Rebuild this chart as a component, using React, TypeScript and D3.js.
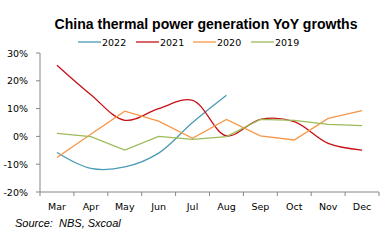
import React from 'react';
import * as d3 from 'd3';

// monthly YoY growth of thermal power generation, in %
const months = ['Mar', 'Apr', 'May', 'Jun', 'Jul', 'Aug', 'Sep', 'Oct', 'Nov', 'Dec'];
const y2022 = [-5.8, -11.5, -11, -6, 5, 14.8];
const y2021 = [25.6, 15, 5.8, 10, 13, 0.2, 6.1, 5.3, -2.5, -4.9];
const y2020 = [-7.6, 0.8, 9.1, 5.5, -0.7, 6.1, 0.2, -1.3, 6.5, 9.3];
const y2019 = [1.1, -0.1, -4.9, 0, -1.1, -0.1, 6.1, 5.8, 4.3, 3.9];
const yTicks = [30, 20, 10, 0, -10, -20];

const series = [
  { name: '2022', values: y2022, color: '#4a9bb5', smooth: true },
  { name: '2021', values: y2021, color: '#c81016', smooth: true },
  { name: '2020', values: y2020, color: '#f79646', smooth: false },
  { name: '2019', values: y2019, color: '#9bbb59', smooth: false },
];

const W = 388;
const H = 248;
const left = 40, right = 379, top = 53, bottom = 192;
const font = 'DejaVu Sans, sans-serif';

export default function App() {
  const x = d3.scaleBand<string>().domain(months).range([left, right]);
  const y = d3.scaleLinear().domain([-20, 30]).range([bottom, top]);
  const cx = (m: string) => (x(m) as number) + x.bandwidth() / 2;

  const legendX = [78, 136, 193, 251];

  return (
    <svg width={W} height={H} style={{ position: 'absolute', left: 0, top: 0, background: '#fff' }}>
      <text x={206} y={29} textAnchor="middle" fontFamily="Liberation Sans, Arial, sans-serif"
        fontWeight="bold" fontSize={15} textLength={303} lengthAdjust="spacingAndGlyphs" fill="#000">
        China thermal power generation YoY growths
      </text>

      {series.map((s, i) => (
        <g key={s.name}>
          <line x1={legendX[i]} x2={legendX[i] + 23} y1={42} y2={42} stroke={s.color} strokeWidth={1.3} />
          <text x={legendX[i] + 24} y={46} fontFamily={font} fontSize={9.5} fill="#000">{s.name}</text>
        </g>
      ))}

      {/* y axis */}
      <line x1={left} x2={left} y1={top} y2={bottom} stroke="#868686" />
      {yTicks.map(t => (
        <g key={t}>
          <line x1={left - 4} x2={left} y1={y(t)} y2={y(t)} stroke="#868686" />
          <text x={28} y={y(t) + 3.5} textAnchor="end" fontFamily={font} fontSize={9.5} fill="#000">{t}%</text>
        </g>
      ))}

      {/* x axis */}
      <line x1={left} x2={right} y1={bottom} y2={bottom} stroke="#868686" />
      {months.map(m => (
        <line key={'t' + m} x1={x(m)} x2={x(m)} y1={bottom} y2={bottom + 4} stroke="#868686" />
      ))}
      <line x1={right} x2={right} y1={bottom} y2={bottom + 4} stroke="#868686" />
      {months.map(m => (
        <text key={m} x={cx(m)} y={210} textAnchor="middle" fontFamily={font} fontSize={9.5} fill="#000">{m}</text>
      ))}

      {series.map(s => {
        const line = d3.line<number>()
          .x((_, i) => cx(months[i]))
          .y(d => y(d))
          .curve(s.smooth ? d3.curveCatmullRom.alpha(0.5) : d3.curveLinear);
        return <path key={s.name} d={line(s.values) || ''} fill="none" stroke={s.color} strokeWidth={1.3} />;
      })}

      <text x={15} y={227} fontFamily="Liberation Sans, Arial, sans-serif" fontStyle="italic" fontSize={11} fill="#000">
        {'Source:\u00a0 NBS, Sxcoal'}
      </text>
    </svg>
  );
}
